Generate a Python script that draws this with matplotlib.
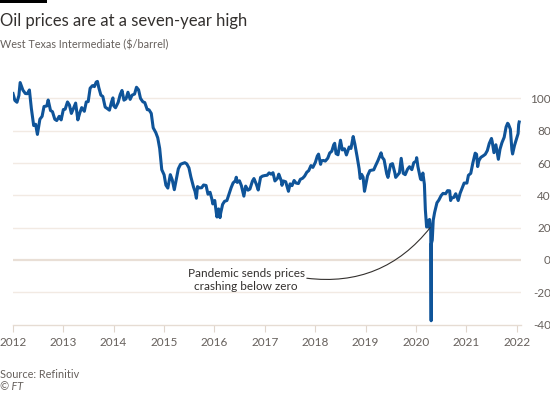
import matplotlib
matplotlib.use("Agg")
import matplotlib.pyplot as plt
import pandas as pd
from matplotlib.patches import Rectangle

plt.rcParams['font.family'] = ['Lato', 'DejaVu Sans']

# ---- data (WTI, $/barrel) ----
dates = [
    "2012-01-03", "2012-01-17", "2012-02-01", "2012-02-15", "2012-02-24", "2012-03-15", "2012-04-02", "2012-04-16",
    "2012-05-01", "2012-05-15", "2012-06-01", "2012-06-15", "2012-06-28", "2012-07-16", "2012-08-01", "2012-08-15",
    "2012-09-04", "2012-09-14", "2012-10-01", "2012-10-15", "2012-11-01", "2012-11-15", "2012-12-03", "2012-12-17",
    "2013-01-02", "2013-01-15", "2013-02-01", "2013-02-15", "2013-03-01", "2013-03-15", "2013-04-01", "2013-04-17",
    "2013-05-01", "2013-05-15", "2013-06-03", "2013-06-17", "2013-07-01", "2013-07-15", "2013-08-01", "2013-08-15",
    "2013-08-28", "2013-09-06", "2013-09-16", "2013-10-01", "2013-10-15", "2013-11-01", "2013-11-15", "2013-12-02",
    "2013-12-16", "2013-12-27",
    "2014-01-02", "2014-01-15", "2014-02-03", "2014-02-18", "2014-03-03", "2014-03-17", "2014-04-01", "2014-04-15",
    "2014-05-01", "2014-05-15", "2014-06-02", "2014-06-16", "2014-07-01", "2014-07-15", "2014-08-01", "2014-08-15",
    "2014-09-02", "2014-09-15", "2014-10-01", "2014-10-15", "2014-11-03", "2014-11-17", "2014-12-01", "2014-12-16",
    "2015-01-02", "2015-01-15", "2015-01-29", "2015-02-16", "2015-03-02", "2015-03-17", "2015-04-01", "2015-04-15",
    "2015-05-01", "2015-05-15", "2015-06-01", "2015-06-15", "2015-07-01", "2015-07-15", "2015-08-03", "2015-08-14",
    "2015-08-24", "2015-09-01", "2015-09-15", "2015-10-01", "2015-10-15", "2015-11-02", "2015-11-16", "2015-12-01",
    "2015-12-15", "2015-12-21",
    "2016-01-04", "2016-01-15", "2016-01-20", "2016-02-01", "2016-02-11", "2016-02-16", "2016-03-01", "2016-03-15",
    "2016-04-01", "2016-04-15", "2016-05-02", "2016-05-16", "2016-06-01", "2016-06-08", "2016-06-15", "2016-07-01",
    "2016-07-15", "2016-08-02", "2016-08-15", "2016-09-01", "2016-09-15", "2016-10-03", "2016-10-14", "2016-11-01",
    "2016-11-14", "2016-12-01", "2016-12-15",
    "2017-01-03", "2017-01-17", "2017-02-01", "2017-02-15", "2017-03-01", "2017-03-15", "2017-04-03", "2017-04-12",
    "2017-05-01", "2017-05-05", "2017-05-15", "2017-06-01", "2017-06-21", "2017-07-03", "2017-07-17", "2017-08-01",
    "2017-08-15", "2017-09-01", "2017-09-15", "2017-10-02", "2017-10-16", "2017-11-01", "2017-11-15", "2017-12-01",
    "2017-12-15",
    "2018-01-02", "2018-01-16", "2018-01-25", "2018-02-09", "2018-02-15", "2018-03-01", "2018-03-15", "2018-04-02",
    "2018-04-16", "2018-05-01", "2018-05-15", "2018-05-22", "2018-06-01", "2018-06-15", "2018-07-03", "2018-07-16",
    "2018-08-01", "2018-08-15", "2018-09-04", "2018-09-17", "2018-10-03", "2018-10-15", "2018-11-01", "2018-11-15",
    "2018-11-23", "2018-12-03", "2018-12-14", "2018-12-24",
    "2019-01-02", "2019-01-15", "2019-02-01", "2019-02-15", "2019-03-01", "2019-03-15", "2019-04-01", "2019-04-23",
    "2019-05-01", "2019-05-15", "2019-06-03", "2019-06-12", "2019-07-01", "2019-07-15", "2019-08-01", "2019-08-07",
    "2019-09-03", "2019-09-16", "2019-10-01", "2019-10-15", "2019-11-01", "2019-11-15", "2019-12-02", "2019-12-16",
    "2020-01-02", "2020-01-06", "2020-01-15", "2020-02-03", "2020-02-10", "2020-02-20", "2020-03-02", "2020-03-09",
    "2020-03-18", "2020-03-25", "2020-04-01", "2020-04-08", "2020-04-15", "2020-04-17", "2020-04-20", "2020-04-21",
    "2020-04-28", "2020-05-05", "2020-05-15", "2020-06-01", "2020-06-15", "2020-07-01", "2020-07-15", "2020-08-03",
    "2020-08-17", "2020-09-01", "2020-09-08", "2020-09-15", "2020-10-01", "2020-10-15", "2020-11-02", "2020-11-16",
    "2020-12-01", "2020-12-15",
    "2021-01-04", "2021-01-15", "2021-02-01", "2021-02-16", "2021-03-05", "2021-03-15", "2021-03-23", "2021-04-01",
    "2021-04-15", "2021-05-03", "2021-05-17", "2021-06-01", "2021-06-15", "2021-07-01", "2021-07-06", "2021-07-19",
    "2021-08-02", "2021-08-20", "2021-09-01", "2021-09-15", "2021-10-01", "2021-10-15", "2021-10-26", "2021-11-01",
    "2021-11-15", "2021-11-26", "2021-12-01", "2021-12-15", "2022-01-03", "2022-01-10", "2022-01-14", "2022-01-18",
]
prices = [
    103.0, 98.7, 97.6, 101.8, 109.8, 105.1, 103.0, 102.9,
    105.2, 93.9, 83.2, 84.0, 77.7, 87.1, 88.9, 95.0,
    95.3, 99.0, 92.5, 91.8, 87.1, 86.3, 88.9, 86.7,
    93.1, 93.3, 97.8, 95.9, 90.7, 93.5, 97.1, 86.7,
    91.0, 94.3, 92.0, 97.8, 98.0, 106.3, 107.9, 107.3,
    110.1, 110.5, 106.6, 102.0, 101.2, 94.6, 93.8, 92.7,
    97.5, 100.3,
    95.4, 94.2, 97.5, 102.4, 104.9, 98.9, 99.7, 103.8,
    99.4, 102.0, 102.7, 106.9, 105.3, 100.0, 97.9, 97.4,
    93.0, 92.9, 90.7, 81.8, 78.8, 75.6, 69.0, 55.9,
    52.7, 46.3, 44.5, 52.8, 49.6, 43.5, 50.1, 56.4,
    59.2, 59.7, 60.2, 59.5, 57.0, 51.4, 45.2, 42.5,
    38.2, 45.4, 44.6, 44.7, 46.4, 46.1, 40.7, 41.9,
    37.4, 34.7,
    36.8, 29.4, 26.6, 31.6, 26.2, 29.0, 34.4, 36.3,
    36.8, 40.4, 44.8, 47.7, 49.0, 51.2, 48.0, 49.0,
    46.0, 39.5, 45.7, 43.2, 43.9, 48.8, 50.4, 46.7,
    43.3, 51.1, 51.9,
    52.3, 52.4, 53.9, 53.1, 54.0, 48.9, 50.6, 53.1,
    48.8, 46.2, 48.9, 48.4, 42.5, 47.1, 46.0, 49.2,
    47.6, 47.3, 49.9, 50.6, 51.9, 54.3, 55.3, 58.4,
    57.3,
    60.4, 64.3, 65.5, 59.2, 61.3, 61.6, 61.2, 63.0,
    66.2, 67.3, 71.3, 72.2, 65.8, 65.1, 74.1, 68.1,
    68.8, 65.0, 69.9, 69.0, 76.4, 71.8, 63.7, 56.5,
    50.4, 53.0, 51.2, 42.5,
    46.5, 52.1, 55.3, 55.6, 55.8, 58.5, 61.6, 66.3,
    63.6, 62.0, 53.3, 51.1, 59.1, 59.6, 53.9, 51.1,
    53.9, 62.9, 53.6, 52.8, 56.2, 57.7, 55.9, 60.2,
    61.2, 63.3, 57.8, 50.1, 49.6, 53.8, 46.8, 31.1,
    20.4, 24.5, 20.3, 25.1, 19.9, 18.3, -37.6, 10.0,
    12.3, 24.6, 29.4, 35.4, 37.1, 39.8, 41.2, 41.0,
    42.9, 42.8, 36.8, 38.3, 38.7, 41.0, 36.8, 41.3,
    44.6, 47.6,
    47.6, 52.4, 53.6, 60.0, 66.1, 65.4, 57.8, 61.5,
    63.5, 64.5, 65.4, 67.7, 72.1, 75.2, 73.4, 66.4,
    71.3, 62.3, 68.6, 72.6, 75.9, 82.3, 84.6, 84.0,
    80.9, 68.2, 65.6, 70.9, 76.1, 78.2, 83.8, 85.4,
]
year_ticks = list(range(2012, 2023))
y_ticks = [-40, -20, 0, 20, 40, 60, 80, 100]

title = "Oil prices are at a seven-year high"
subtitle = "West Texas Intermediate ($/barrel)"
note = "Pandemic sends prices\ncrashing below zero"
source = "Source: Refinitiv"

# ---- styles ----
W, H = 550, 393
fig = plt.figure(figsize=(W / 100, H / 100), dpi=100)
fig.patch.set_facecolor('white')

ax_left, ax_right = 12.7, 521.0
ax_top, ax_bottom = 79.0, 324.6
ax = fig.add_axes([ax_left / W, (H - ax_bottom) / H, (ax_right - ax_left) / W, (ax_bottom - ax_top) / H])
ax.set_facecolor('white')

x = pd.to_datetime(dates)
ax.plot(x, prices, color='#0F5499', lw=2.2, solid_joinstyle='round', zorder=3)

ax.set_xlim(pd.Timestamp('2012-01-01'), pd.Timestamp('2022-01-31'))
ax.set_ylim(-40, 112)

grid_c = '#F2EAE3'
for v in y_ticks:
    if v == 0:
        ax.axhline(v, color='#E9DFD6', lw=1.6, zorder=1)
    elif v == -40:
        pass
    else:
        ax.axhline(v, color=grid_c, lw=1.0, zorder=1)

for s in ['top', 'left', 'right']:
    ax.spines[s].set_visible(False)
ax.spines['bottom'].set_color('#E6DCD3')
ax.spines['bottom'].set_linewidth(1.0)
ax.spines['bottom'].set_position(('data', -40))

ax.set_xticks([pd.Timestamp(f'{y}-01-01') for y in year_ticks])
ax.set_xticklabels([str(y) for y in year_ticks])
ax.set_yticks(y_ticks)
ax.set_yticklabels([str(v) for v in y_ticks])
ax.tick_params(axis='x', direction='out', length=5, width=0.8, color='#E0D6CC',
               labelsize=8.5, labelcolor='#66605C', pad=4)
ax.tick_params(axis='y', left=False, right=False, labelleft=False, labelright=True,
               labelsize=8.5, labelcolor='#66605C', pad=18)
for lab in ax.get_yticklabels():
    lab.set_horizontalalignment('right')

# annotation
ax.text(pd.Timestamp('2016-08-18'), -12.4, note, ha='center', va='center',
        fontsize=8.5, color='#33302E', linespacing=1.15, zorder=4)
ax.annotate('', xy=(pd.Timestamp('2020-04-13'), 20), xytext=(pd.Timestamp('2017-11-01'), -11.3),
            arrowprops=dict(arrowstyle='-', connectionstyle='arc3,rad=0.28', color='#33302E',
                            lw=0.8, shrinkA=0, shrinkB=0), zorder=4)

# titles and footer
fig.add_artist(Rectangle((0, 1 - 3 / H), 47 / W, 3 / H, transform=fig.transFigure,
                         facecolor='black', edgecolor='none'))
fig.text(0, 1 - 26 / H, title, fontsize=12.0, color='#33302E', va='baseline', ha='left')
fig.text(0, 1 - 48.5 / H, subtitle, fontsize=7.8, color='#66605C', va='baseline', ha='left')
fig.text(0, (H - 377.5) / H, source, fontsize=7.8, color='#66605C', va='baseline', ha='left')
fig.text(0, (H - 390) / H, "© FT", fontsize=7.8, color='#66605C', va='baseline', ha='left',
         style='italic')

fig.savefig('out.png', dpi=100, facecolor='white')
